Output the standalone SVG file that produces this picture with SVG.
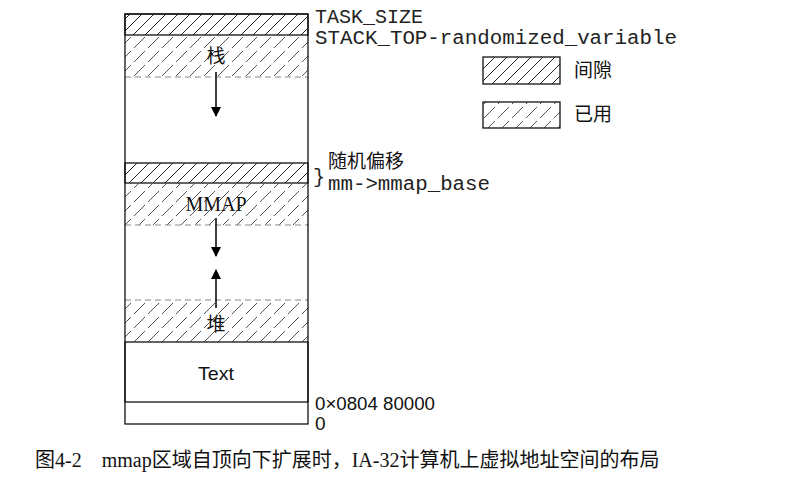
<svg xmlns="http://www.w3.org/2000/svg" width="802" height="477" viewBox="0 0 802 477">
<style>
.m{font-family:"Liberation Mono",monospace;font-size:20px;fill:#222}
.s{font-family:"Liberation Sans","Noto Sans CJK SC",sans-serif;font-size:19px;fill:#111}
.c{font-family:"Liberation Serif","Noto Sans CJK SC",serif;font-size:20px;fill:#111}
.o{stroke:#111;stroke-width:1.3}
.d{fill:none;stroke:#888;stroke-width:1;stroke-dasharray:6,4}
</style>
<defs>
<pattern id="h" width="12" height="12" patternUnits="userSpaceOnUse"><path d="M-3,15 L15,-3 M-3,3 L3,-3 M9,15 L15,9" stroke="#222" stroke-width="1"/></pattern>
<pattern id="u" width="14" height="14" patternUnits="userSpaceOnUse"><path d="M0,14 L5,9 M8,6 L14,0" stroke="#555" stroke-width="1"/></pattern>
<marker id="a" markerWidth="10" markerHeight="12" refX="9" refY="5" orient="auto" markerUnits="userSpaceOnUse"><path d="M0,0 L10,5 L0,10 z" fill="#000"/></marker>
</defs>
<g id="gap-top"><rect x="125" y="14" width="183" height="21" fill="url(#h)" class="o"/></g>
<g id="stack"><rect x="125" y="35" width="183" height="42" fill="url(#u)"/><line x1="125" y1="77" x2="308" y2="77" class="d"/><text x="216" y="63" text-anchor="middle" class="s">栈</text></g>
<g id="gap-mid"><rect x="125" y="163" width="183" height="20" fill="url(#h)" class="o"/></g>
<g id="mmap"><rect x="125" y="183" width="183" height="42" fill="url(#u)"/><line x1="125" y1="225" x2="308" y2="225" class="d"/><text x="216" y="211" text-anchor="middle" class="c">MMAP</text></g>
<g id="heap"><rect x="125" y="300" width="183" height="42" fill="url(#u)"/><line x1="125" y1="300" x2="308" y2="300" class="d"/><text x="216" y="331" text-anchor="middle" class="s">堆</text></g>
<g id="text"><rect x="125" y="342" width="183" height="60" fill="none" class="o"/><text x="216" y="380" text-anchor="middle" class="s" textLength="36" lengthAdjust="spacingAndGlyphs">Text</text></g>
<g id="outer"><rect x="125" y="14" width="183" height="410" fill="none" class="o"/></g>
<g id="connectors">
<line x1="216" y1="72" x2="216" y2="116" stroke="#000" stroke-width="1.5" marker-end="url(#a)"/>
<line x1="216" y1="218" x2="216" y2="256" stroke="#000" stroke-width="1.5" marker-end="url(#a)"/>
<line x1="216" y1="308" x2="216" y2="270" stroke="#000" stroke-width="1.5" marker-end="url(#a)"/>
</g>
<g id="labels">
<text x="315" y="23" class="m" font-size="18">TASK_SIZE</text>
<text x="315" y="44" class="m" textLength="362" lengthAdjust="spacingAndGlyphs" font-size="18">STACK_TOP-randomized_variable</text>
<text x="313" y="183" class="m">}</text>
<text x="328" y="168" class="s">随机偏移</text>
<text x="328" y="190" class="m" font-size="18" textLength="162" lengthAdjust="spacingAndGlyphs">mm-&gt;mmap_base</text>
<text x="315" y="410" class="s" textLength="120" lengthAdjust="spacingAndGlyphs">0×0804 80000</text>
<text x="315" y="430" class="s">0</text>
</g>
<g id="legend">
<rect x="483" y="57" width="77" height="27" fill="url(#h)" class="o"/>
<text x="574" y="77" class="s">间隙</text>
<rect x="483" y="102" width="77" height="26" fill="url(#u)" class="o"/>
<text x="574" y="121" class="s">已用</text>
</g>
<text x="35" y="467" class="c" font-size="21" xml:space="preserve">图4-2    mmap区域自顶向下扩展时，IA-32计算机上虚拟地址空间的布局</text>
</svg>
